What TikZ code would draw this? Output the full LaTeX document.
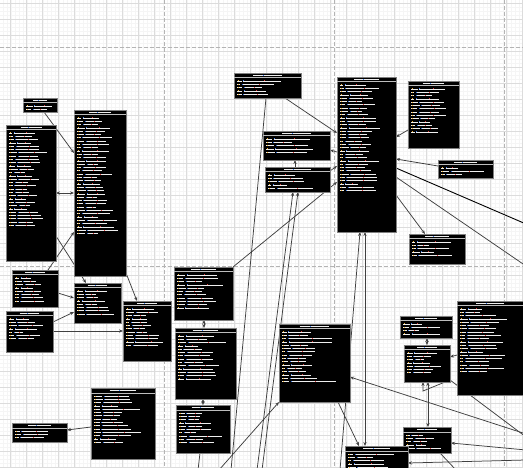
\documentclass[tikz,border=0pt]{standalone}
\usetikzlibrary{arrows.meta}
\definecolor{gmin}{HTML}{F5F5F5}
\definecolor{gmaj}{HTML}{DCDCDC}
\definecolor{gdash}{HTML}{B4B4B4}
\definecolor{linec}{HTML}{404040}
\definecolor{bordc}{HTML}{808080}
\definecolor{rowc}{HTML}{EEEEEE}
\definecolor{sepc}{HTML}{BDBDBD}
\definecolor{cyel}{HTML}{F0B030}
\definecolor{cred}{HTML}{E04040}
\definecolor{cblu}{HTML}{4080F0}
\pgfdeclarelayer{gridlayer}
\pgfdeclarelayer{bg}
\pgfsetlayers{gridlayer,bg,main}
\tikzset{
  umlbox/.style={draw=bordc,fill=black,line width=0.8pt,inner sep=0pt,outer sep=0pt,rectangle},
  rowline/.style={draw=rowc,line width=0.7pt},
  sepline/.style={draw=sepc,line width=0.8pt},
  conn/.style={draw=linec,line width=0.75pt},
  arr/.style={-{Stealth[length=4pt,width=3.2pt]}},
  barr/.style={{Stealth[length=4pt,width=3.2pt]}-{Stealth[length=4pt,width=3.2pt]}},
  pagedash/.style={draw=gdash,line width=0.6pt,dash pattern=on 4pt off 2pt}
}
\newcommand\umlbox[6]{%
  \pgfmathsetmacro\bxw{#4-#2}%
  \pgfmathsetmacro\bxh{#5-#3}%
  \node[umlbox,minimum width=\bxw pt,minimum height=\bxh pt,anchor=north west] (#1) at (#2,#3) {};
  \pgfmathsetmacro\ttlen{0.42*\bxw}%
  \pgfmathsetmacro\ttx{#2+(\bxw-\ttlen)/2}%
  \draw[rowline] (\ttx,#3+2.5) -- ++(\ttlen,0);
  \fill[cblu] (\ttx+0.35*\ttlen,#3+2) rectangle ++(1,1);
  \draw[sepline] (#2+0.4,#3+4.9) -- (#4-0.4,#3+4.9);
  \foreach \i in {1,...,#6}{%
    \pgfmathsetmacro\yy{#3+8+(\i-1)*3.3}%
    \pgfmathsetmacro\rowA{3+6*rnd}%
    \pgfmathsetmacro\rowB{(0.25+0.5*rnd)*(\bxw-10)}%
    \draw[rowline] (#2+3,\yy) -- ++(\rowA,0);
    \draw[rowline] (#2+4.5+\rowA,\yy) -- ++(\rowB,0);
    \fill[cyel] (#2+3.5,\yy-0.5) rectangle ++(1,1);
    \fill[cblu] (#2+4.5+\rowA,\yy-0.5) rectangle ++(1,1);
    \fill[cred] (#2+4.5+\rowA+0.55*\rowB,\yy-0.5) rectangle ++(1,1);
  }%
}
\begin{document}
\begin{tikzpicture}[x=1pt,y=-1pt]
\pgfmathsetseed{11}
\useasboundingbox (0,0) rectangle (523,468);
\clip (0,0) rectangle (523,468);
\begin{pgfonlayer}{gridlayer}
\fill[white] (0,0) rectangle (523,468);
\foreach \x in {2.7,6.7,...,523} \draw[gmin,line width=0.25pt] (\x,0) -- (\x,468);
\foreach \y in {3.3,7.3,...,468} \draw[gmin,line width=0.25pt] (0,\y) -- (523,\y);
\foreach \x in {10.7,26.7,...,523} \draw[gmaj,line width=0.6pt] (\x,0) -- (\x,468);
\foreach \y in {3.3,19.3,...,468} \draw[gmaj,line width=0.6pt] (0,\y) -- (523,\y);
\draw[pagedash] (0,47.3) -- (523,47.3);
\draw[pagedash] (0,266.5) -- (523,266.5);
\draw[pagedash] (164.3,0) -- (164.3,468);
\draw[pagedash] (334,0) -- (334,468);
\draw[pagedash] (504,0) -- (504,468);
\end{pgfonlayer}

\umlbox{b1}{23}{98}{57}{112}{2}
\umlbox{b2}{6}{125}{56}{261}{29}
\umlbox{b3}{74}{110}{126}{276}{36}
\umlbox{b4}{12}{270}{58}{307}{8}
\umlbox{b5}{6}{311}{53}{352}{7}
\umlbox{b6}{74}{283}{121}{323}{8}
\umlbox{b7}{123}{301}{171}{361}{12}
\umlbox{b8}{12}{423}{67}{442}{3}
\umlbox{b9}{91}{388}{155}{459}{15}
\umlbox{b10}{234}{73}{301}{98}{5}
\umlbox{b11}{263}{131}{330}{160}{5}
\umlbox{b12}{265}{167}{330}{192}{5}
\umlbox{b13}{337}{77}{396}{232}{33}
\umlbox{b14}{408}{81}{459}{148}{14}
\umlbox{b15}{438}{160}{493}{178}{3}
\umlbox{b16}{409}{234}{465}{264}{5}
\umlbox{b17}{174}{267}{233}{320}{11}
\umlbox{b18}{175}{328}{236}{399}{14}
\umlbox{b19}{176}{405}{230}{453}{10}
\umlbox{b20}{279}{324}{350}{402}{16}
\umlbox{b21}{400}{316}{452}{338}{4}
\umlbox{b22}{404}{345}{450}{382}{7}
\umlbox{b23}{457}{301}{523}{395}{20}
\umlbox{b24}{403}{427}{451}{453}{5}
\umlbox{b25}{345}{446}{408}{472}{6}

\coordinate (o1) at (231,470);
\coordinate (o2) at (257,470);
\coordinate (o3) at (262,470);
\coordinate (o4) at (526,224);
\coordinate (o5) at (526,266);
\coordinate (o6) at (340,470);
\coordinate (o7) at (198,470);
\coordinate (o8) at (219,470);
\coordinate (o9) at (526,434);
\coordinate (o10) at (526,437);
\coordinate (o11) at (526,450);
\coordinate (o12) at (526,460);
\coordinate (o13) at (456,470);
\coordinate (cA) at (423,391);

\begin{pgfonlayer}{bg}
\draw[conn,arr] (b1.south -| 44,0) -- (b3.west |- 0,153);
\draw[conn,barr] (b2.east |- 0,193) -- (b3.west |- 0,193);
\draw[conn,arr] (b2.east |- 0,236) -- (b6.north -| 86,0);
\draw[conn,arr] (b4.north -| 48,0) -- (b3.west |- 0,232);
\draw[conn,arr] (b3.east |- 0,273) -- (b7.north -| 137,0);
\draw[conn,arr] (b4.east |- 0,293) -- (b6.west |- 0,298);
\draw[conn,arr] (b5.east |- 0,322) -- (b6.west |- 0,312);
\draw[conn,arr] (b5.east |- 0,331) -- (b7.west |- 0,331);
\draw[conn,arr] (b9.west |- 0,427) -- (b8.east |- 0,430);
\draw[conn,arr] (b10.south -| 285,0) -- (b13.west |- 0,133);
\draw[conn] (b10.south -| 266,0) -- (o1);
\draw[conn,arr] (b13.west |- 0,152) -- (b11.east |- 0,150);
\draw[conn,arr] (b12.east |- 0,171) -- (b13.west |- 0,166);
\draw[conn,arr] (b12.north -| 295,0) -- (b11.south -| 295,0);
\draw[conn,arr] (o2) -- (b12.south -| 293,0);
\draw[conn,arr] (o3) -- (b12.south -| 298,0);
\draw[conn,arr] (b17.north east) -- (b13.west |- 0,182);
\draw[conn,arr] (b14.west |- 0,130) -- (b13.east |- 0,137);
\draw[conn,arr] (b15.west |- 0,166) -- (b13.east |- 0,159);
\draw[conn,line width=0.9pt,draw=black] (b13.east |- 0,168) -- (o4);
\draw[conn] (b13.east |- 0,177) -- (o5);
\draw[conn,arr] (b13.east |- 0,195) -- (b16.north -| 425,0);
\draw[conn,arr] (o6) -- (b13.south -| 360,0);
\draw[conn,barr] (b25.north -| 365,0) -- (b13.south -| 365,0);
\draw[conn,barr] (b18.north -| 204,0) -- (b17.south -| 204,0);
\draw[conn,barr] (b19.north -| 203,0) -- (b18.south -| 203,0);
\draw[conn] (b19.south -| 200,0) -- (o7);
\draw[conn,arr] (o8) -- (b20.south west);
\draw[conn,arr] (b20.south -| 338,0) -- (b25.north -| 359,0);
\draw[conn,arr] (o9) -- (b20.east |- 0,377);
\draw[conn,barr] (b21.south -| 427,0) -- (b22.north -| 427,0);
\draw[conn,arr] (b23.west |- 0,355) -- (b22.east |- 0,357);
\draw[conn,barr] (b22.south -| 428,0) -- (b24.north -| 428,0);
\draw[conn,barr] (b22.east |- 0,380) -- (cA) -- (b22.south -| 423,0);
\draw[conn] (b22.east |- 0,380) -- (o10);
\draw[conn,arr] (o11) -- (b24.east |- 0,443);
\draw[conn,arr] (o12) -- (b25.east |- 0,463);
\draw[conn] (b24.south -| 440,0) -- (o13);
\end{pgfonlayer}
\end{tikzpicture}
\end{document}
